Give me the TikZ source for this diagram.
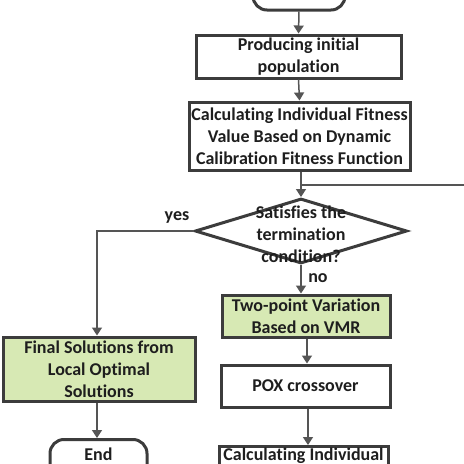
\documentclass[tikz,border=0pt]{standalone}
\usepackage{fontspec}
\setmainfont{Carlito}[Ligatures=NoCommon]
\usetikzlibrary{shapes.geometric,arrows.meta}
\definecolor{bordc}{HTML}{3C3C3C}
\definecolor{arrc}{HTML}{555555}
\definecolor{greenf}{HTML}{D7E9B4}
\definecolor{txtc}{HTML}{1E1E1E}
\tikzset{
  fnt/.style={font=\bfseries\fontsize{18}{22}\selectfont},
  box/.style={draw=bordc, line width=3pt, rectangle, inner sep=0pt, align=center, fnt, text=txtc},
  gbox/.style={box, fill=greenf},
  term/.style={draw=bordc, line width=3pt, rectangle, rounded corners=14pt, inner sep=0pt, fnt, text=txtc},
  dia/.style={draw=bordc, line width=3pt, diamond, inner sep=0pt},
  lbl/.style={fnt, text=txtc, align=center, inner sep=0pt},
  arr/.style={draw=arrc, line width=1.5pt, -{Triangle[width=10pt,length=8pt]}},
  ln/.style={draw=arrc, line width=1.2pt}
}
\begin{document}
\begin{tikzpicture}[x=1pt,y=-1pt]
\useasboundingbox (0,0) rectangle (464,464);
\clip (0,0) rectangle (464,464);
\fill[white] (0,0) rectangle (464,464);
% start terminal
\node[term, minimum width=92pt, minimum height=34pt] (start) at (299,-7) {};
% boxes
\node[box, minimum width=205pt, minimum height=43pt] (p1) at (298.5,56.5) {Producing initial\\population};
\node[box, minimum width=221pt, minimum height=68pt] (p2) at (299.5,136) {Calculating Individual Fitness\\Value Based on Dynamic\\Calibration Fitness Function};
\node[dia, minimum width=212pt, minimum height=65pt] (d) at (301,231) {};
\node[lbl] (dt) at (301,234) {Satisfies the\\termination\\condition?};
\node[gbox, minimum width=168pt, minimum height=42pt] (v) at (306,316) {Two-point Variation\\Based on VMR};
\node[box, minimum width=169pt, minimum height=42pt] (pox) at (305.5,386) {POX crossover};
\node[box, minimum width=169pt, minimum height=50pt, anchor=north] (c2) at (303.5,445) {};
\node[lbl, anchor=base] (c2t) at (303.5,460) {Calculating Individual};
\node[gbox, minimum width=192pt, minimum height=64pt] (f) at (99,369) {Final Solutions from\\Local Optimal\\Solutions};
\node[term, minimum width=97pt, minimum height=44pt, anchor=north] (e) at (98.5,438) {};
\node[lbl, anchor=base] (et) at (98.5,460) {End};
% labels
\node[lbl] (yes) at (177,217) {yes};
\node[lbl] (no) at (318,278) {no};
% coordinates
\coordinate (lj) at (300,185);
\coordinate (lr) at (470,185);
\coordinate (yc) at (97,231);
% connectors
\draw[arr] (start.south) -- (p1.north);
\draw[arr] (p1.south) -- (p2.north);
\draw[arr] (p2.south -| d.north) -- (d.north);
\draw[ln] (lj) -- (lr);
\draw[arr] (d.west) -- (yc) -- (f.north -| yc);
\draw[arr] (d.south) -- (d.south |- v.north);
\draw[arr] (v.south -| 307,0) -- (pox.north -| 307,0);
\draw[arr] (pox.south -| 308,0) -- (c2.north -| 308,0);
\draw[arr] (f.south -| 97,0) -- (e.north -| 97,0);
\end{tikzpicture}
\end{document}
